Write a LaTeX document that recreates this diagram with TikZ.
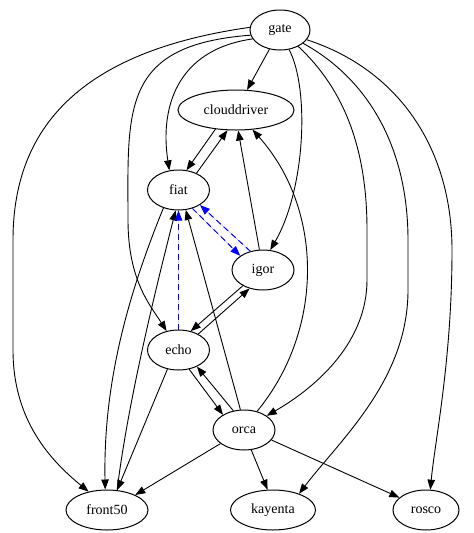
\documentclass[tikz,border=0pt]{standalone}
\usepackage{fontspec}
\setmainfont{Liberation Serif}
\usetikzlibrary{arrows.meta,shapes.geometric}

\begin{document}
\begin{tikzpicture}[x=1pt, y=-1pt, font=\fontsize{14}{16}\selectfont,
  svc/.style={draw, ellipse, line width=1pt, inner sep=0pt, minimum height=40pt},
  dep/.style={-{Triangle[length=10pt,width=7.5pt]}, line width=0.9pt},
  wk/.style={dep, draw=blue, fill=blue, line width=1pt, dash pattern=on 6pt off 4pt}]
\useasboundingbox (0,0) rectangle (474,533);
\node[svc,minimum width=60pt] (gate) at (280,30) {gate};
\node[svc,minimum width=116pt] (cd) at (236,110) {clouddriver};
\node[svc,minimum width=62pt] (fiat) at (178.5,190) {fiat};
\node[svc,minimum width=62pt] (igor) at (263,270) {igor};
\node[svc,minimum width=62pt] (echo) at (178.5,350) {echo};
\node[svc,minimum width=62pt] (orca) at (244,430) {orca};
\node[svc,minimum width=82pt] (f50) at (107,510) {front50};
\node[svc,minimum width=85pt] (kay) at (273,510) {kayenta};
\node[svc,minimum width=66pt] (rosco) at (426,510) {rosco};
% gate fan-out
\draw[dep] (gate) -- (cd);
\draw[dep] (gate.198) .. controls (175,50) and (160,110) .. (fiat.115);
\draw[dep] (gate.190) .. controls (120,45) and (128,110) .. (128,220) .. controls (128,280) and (150,305) .. (echo.122);
\draw[dep] (gate.175) .. controls (90,50) and (13,120) .. (13,240) -- (13,350) .. controls (13,420) and (50,460) .. (f50.135);
\draw[dep] (gate.295) .. controls (310,90) and (305,190) .. (igor.70);
\draw[dep] (gate.318) .. controls (345,90) and (367,150) .. (367,230) -- (367,280) .. controls (367,340) and (320,385) .. (orca.32);
\draw[dep] (gate.330) .. controls (370,80) and (408,150) .. (408,240) -- (408,290) .. controls (408,380) and (340,440) .. (kay.32);
\draw[dep] (gate.340) .. controls (400,70) and (452,150) .. (452,250) .. controls (452,360) and (435,440) .. (rosco.78);
% clouddriver
\draw[dep] (cd.223) -- (fiat.68);
\draw[dep] (fiat.43) -- (cd.247);
\draw[dep] (igor.100) -- (cd.276);
\draw[dep] (orca.55) .. controls (324,330) and (324,210) .. (cd.310);
% fiat
\draw[dep] (orca.100) -- (fiat.290);
\draw[dep] (fiat.230) .. controls (130,290) and (103,380) .. (f50.95);
\draw[dep] (f50.63) .. controls (128,400) and (158,280) .. (fiat.262);
\draw[wk] (echo.north) -- (fiat.south);
\draw[wk] (fiat.307) -- (igor.148);
\draw[wk] (igor.124) -- (fiat.325);
% echo, orca
\draw[dep] (igor.218) -- (echo.57);
\draw[dep] (echo.39) -- (igor.234);
\draw[dep] (echo.240) -- (f50.63);
\draw[dep] (echo.299) -- (orca.144);
\draw[dep] (orca.119) -- (echo.318);
\draw[dep] (orca.210) -- (f50.28);
\draw[dep] (orca.290) -- (kay.105);
\draw[dep] (orca.340) -- (rosco.155);
\end{tikzpicture}
\end{document}
